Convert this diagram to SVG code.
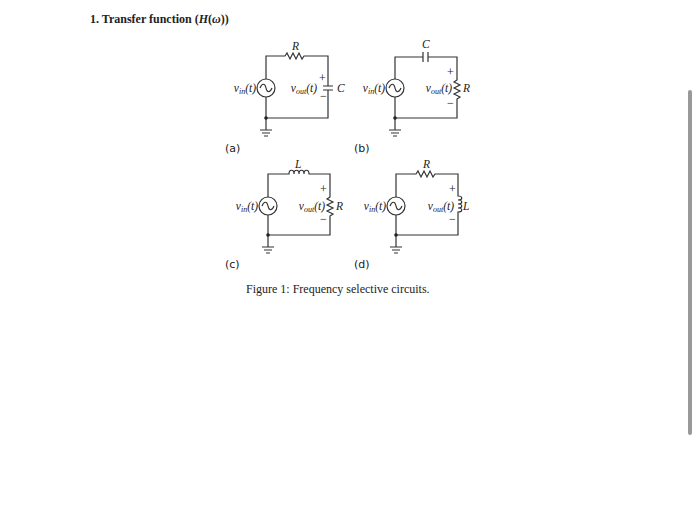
<svg xmlns="http://www.w3.org/2000/svg" width="700" height="520" viewBox="0 0 700 520">
<style>
.w{fill:none;stroke:#333;stroke-width:1.2}
.t{font-family:"Liberation Serif",serif;font-size:11.5px;font-style:italic;fill:#222}
.e{text-anchor:end}
.s{font-size:8px}
.n{font-family:"Liberation Serif",serif;font-size:12px;fill:#222}
.l{font-family:"DejaVu Sans",sans-serif;font-size:11px;fill:#222}
</style>
<defs>
<g id="src"><circle r="9" fill="#fff" stroke="#333" stroke-width="1.2"/><path d="M-6,0 C-4,-5 -1,-5 0,0 S4,5 6,0" fill="none" stroke="#333" stroke-width="1.2"/></g>
<g id="gnd"><path d="M0,0 V12 M-6,12 H6 M-4,15 H4 M-2,18 H2" fill="none" stroke="#333" stroke-width="1.2"/><circle r="1.8" fill="#222"/></g>
</defs>
<rect width="700" height="520" fill="#fff"/>
<rect x="688" y="90" width="4" height="345" rx="2" fill="#999"/>
<text x="90" y="23" class="n" style="font-weight:bold">1. Transfer function (<tspan font-style="italic">H</tspan>(<tspan font-style="italic">ω</tspan>))</text>

<g id="a">
<path class="w" d="M266,79 V56 H285 l2,-3 3,6 3,-6 3,6 3,-6 3,6 2,-3 H328 V86 M323,86 H333 M323,90 H333 M328,90 V118 H266 V97"/>
<use href="#src" x="266" y="88"/><use href="#gnd" x="266" y="118"/>
<text x="292" y="50" class="t">R</text>
<text x="256" y="92" class="t e">v<tspan class="s" dy="2">in</tspan><tspan dy="-2">(t)</tspan></text>
<text x="317" y="92" class="t e">v<tspan class="s" dy="2">out</tspan><tspan dy="-2">(t)</tspan></text>
<text x="319" y="82" class="n" font-size="10">+</text><text x="320" y="100" class="n" font-size="10">−</text>
<text x="337" y="92" class="t">C</text>
<text x="225" y="152" class="l">(a)</text>
</g>
<g id="b">
<path class="w" d="M395,79 V57 H423 M423,52 V62 M428,52 V62 M428,57 H457 V80 l-3,2 6,3 -6,3 6,3 -6,3 6,3 -3,2 V118 H395 V97"/>
<use href="#src" x="395" y="88"/><use href="#gnd" x="395" y="118"/>
<text x="422" y="48" class="t">C</text>
<text x="385" y="92" class="t e">v<tspan class="s" dy="2">in</tspan><tspan dy="-2">(t)</tspan></text>
<text x="452" y="92" class="t e">v<tspan class="s" dy="2">out</tspan><tspan dy="-2">(t)</tspan></text>
<text x="447" y="76" class="n" font-size="10">+</text><text x="447" y="107" class="n" font-size="10">−</text>
<text x="463" y="92" class="t">R</text>
<text x="354" y="152" class="l">(b)</text>
</g>
<g id="c">
<path class="w" d="M268,197 V174 H289 c0,-5 5,-5 5,0 c0,-5 5,-5 5,0 c0,-5 5,-5 5,0 c0,-5 5,-5 5,0 H330 V197 l-3,2 6,3 -6,3 6,3 -6,3 6,3 -3,2 V235 H268 V215"/>
<use href="#src" x="268" y="206"/><use href="#gnd" x="268" y="235"/>
<text x="295" y="168" class="t">L</text>
<text x="258" y="210" class="t e">v<tspan class="s" dy="2">in</tspan><tspan dy="-2">(t)</tspan></text>
<text x="325" y="210" class="t e">v<tspan class="s" dy="2">out</tspan><tspan dy="-2">(t)</tspan></text>
<text x="320" y="193" class="n" font-size="10">+</text><text x="320" y="223" class="n" font-size="10">−</text>
<text x="336" y="210" class="t">R</text>
<text x="225" y="268" class="l">(c)</text>
</g>
<g id="d">
<path class="w" d="M396,197 V174 H416 l2,-3 3,6 3,-6 3,6 3,-6 3,6 2,-3 H458 V196 c5,0 5,4 0,4 c5,0 5,4 0,4 c5,0 5,4 0,4 c5,0 5,4 0,4 V235 H396 V215"/>
<use href="#src" x="396" y="206"/><use href="#gnd" x="396" y="235"/>
<text x="423" y="168" class="t">R</text>
<text x="386" y="210" class="t e">v<tspan class="s" dy="2">in</tspan><tspan dy="-2">(t)</tspan></text>
<text x="454" y="210" class="t e">v<tspan class="s" dy="2">out</tspan><tspan dy="-2">(t)</tspan></text>
<text x="449" y="193" class="n" font-size="10">+</text><text x="449" y="223" class="n" font-size="10">−</text>
<text x="463" y="210" class="t">L</text>
<text x="354" y="268" class="l">(d)</text>
</g>
<text x="246" y="293" class="n" font-size="11.5">Figure 1: Frequency selective circuits.</text>
</svg>
